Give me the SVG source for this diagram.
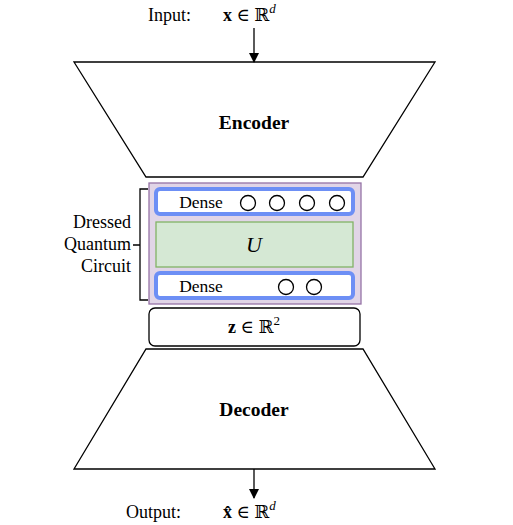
<svg xmlns="http://www.w3.org/2000/svg" width="513" height="525" viewBox="0 0 513 525">
<defs>
<style>
text{font-family:"Liberation Serif","DejaVu Serif",serif;fill:#000}
.lbl{font-size:18px}
.dn{font-size:17.5px}
.bold{font-size:19.5px;font-weight:bold}
.shape{fill:#fff;stroke:#000;stroke-width:1.3}
.dense{fill:#fff;stroke:#6d8ff5;stroke-width:4}
.neuron{fill:#fff;stroke:#000;stroke-width:1.3}
.ln{stroke:#000;stroke-width:1.3;fill:none}
</style>
<marker id="ah" viewBox="0 0 10 10" refX="9" refY="5" markerWidth="10" markerHeight="10" markerUnits="userSpaceOnUse" orient="auto">
<path d="M0,0 L10,5 L0,10 z" fill="#000"/>
</marker>
</defs>
<rect width="513" height="525" fill="#fff"/>
<g id="input-label">
<text class="lbl" x="148" y="21">Input:</text>
<text class="lbl" x="223" y="21"><tspan font-weight="bold">x</tspan> ∈ ℝ<tspan font-style="italic" font-size="13" dy="-8">d</tspan></text>
</g>
<g id="encoder">
<polygon class="shape" points="74,62 435,62 363,177 146,177"/>
<text class="bold" x="254" y="129" text-anchor="middle">Encoder</text>
</g>
<g id="dqc">
<rect x="149" y="183" width="212" height="121" fill="#e1d5e7" stroke="#9673a6" stroke-width="1.3"/>
</g>
<g id="dense1">
<rect class="dense" x="156" y="189" width="197" height="25" rx="4"/>
<text class="dn" x="201" y="208" text-anchor="middle">Dense</text>
<circle class="neuron" cx="248" cy="203" r="7.5"/>
<circle class="neuron" cx="277" cy="203" r="7.5"/>
<circle class="neuron" cx="307" cy="203" r="7.5"/>
<circle class="neuron" cx="337" cy="203" r="7.5"/>
</g>
<g id="unitary">
<rect x="156" y="222" width="197" height="45" fill="#d5e8d4" stroke="#82b366" stroke-width="1.3"/>
<text x="254" y="252" text-anchor="middle" font-size="22" font-style="italic">U</text>
</g>
<g id="dense2">
<rect class="dense" x="156" y="273" width="197" height="25" rx="4"/>
<text class="dn" x="201" y="292" text-anchor="middle">Dense</text>
<circle class="neuron" cx="286" cy="287" r="7.5"/>
<circle class="neuron" cx="314" cy="287" r="7.5"/>
</g>
<g id="bracket">
<path class="ln" d="M148,189 H140 V300 H148 M140,245 H133"/>
<text class="lbl" x="131" y="228" text-anchor="end">Dressed</text>
<text class="lbl" x="131" y="250" text-anchor="end">Quantum</text>
<text class="lbl" x="131" y="272" text-anchor="end">Circuit</text>
</g>
<g id="latent">
<rect class="shape" x="149" y="308" width="211" height="38" rx="6"/>
<text class="lbl" x="254" y="333" text-anchor="middle"><tspan font-weight="bold">z</tspan> ∈ ℝ<tspan font-size="13" dy="-8">2</tspan></text>
</g>
<g id="decoder">
<polygon class="shape" points="146,349 363,349 435,469 74,469"/>
<text class="bold" x="254" y="416" text-anchor="middle">Decoder</text>
</g>
<g id="output-label">
<text class="lbl" x="126" y="518">Output:</text>
<text class="lbl" x="223" y="518"><tspan font-weight="bold">x̂</tspan> ∈ ℝ<tspan font-style="italic" font-size="13" dy="-8">d</tspan></text>
</g>
<g id="connectors">
<line class="ln" x1="254" y1="28" x2="254" y2="62" marker-end="url(#ah)"/>
<line class="ln" x1="254" y1="469" x2="254" y2="498" marker-end="url(#ah)"/>
</g>
</svg>
